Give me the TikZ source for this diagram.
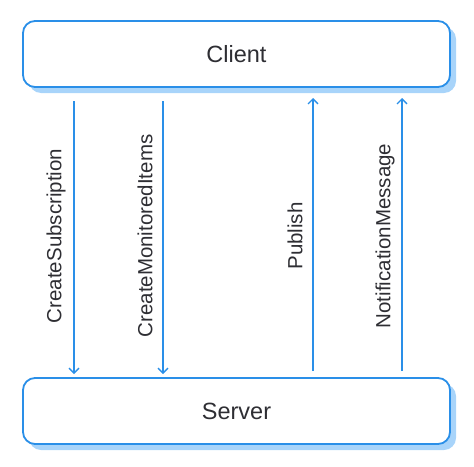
\documentclass[tikz,border=0pt]{standalone}
\usepackage{fontspec}
\setmainfont{Liberation Sans}
\usetikzlibrary{arrows.meta}
\definecolor{bluel}{HTML}{2A8FE8}
\definecolor{shad}{HTML}{A8D4FA}
\definecolor{txt}{HTML}{2E2E33}
\tikzset{
  x=1pt,y=-1pt,
  box/.style={draw=bluel,line width=1.8pt,fill=white,rounded corners=12pt,minimum width=427pt,minimum height=66pt,inner sep=0pt,font=\fontsize{23.5}{28}\selectfont,text=txt},
  shadowbox/.style={fill=shad,rounded corners=12pt,minimum width=427pt,minimum height=66pt,inner sep=0pt},
  msg/.style={draw=bluel,line width=1.3pt,-{Straight Barb[length=5pt,width=10pt,line width=1.3pt]}},
  lbl/.style={rotate=90,font=\fontsize{20.5}{24}\selectfont,text=txt,inner sep=0pt}
}
\begin{document}
\begin{tikzpicture}
\useasboundingbox (0,0) rectangle (474,466);
\node[shadowbox] at (242.5,60) {};
\node[box] (client) at (236.5,54) {Client};
\node[shadowbox] at (242.5,417) {};
\node[box] (server) at (236.5,411) {Server};
\coordinate (a1) at (74,101); \coordinate (b1) at (74,374);
\coordinate (a2) at (163,101); \coordinate (b2) at (163,374);
\coordinate (a3) at (313,371); \coordinate (b3) at (313,98);
\coordinate (a4) at (402,371); \coordinate (b4) at (402,98);
\draw[msg] (a1) -- (b1);
\draw[msg] (a2) -- (b2);
\draw[msg] (a3) -- (b3);
\draw[msg] (a4) -- (b4);
\node[lbl] (l1) at (56,236) {CreateSubscription};
\node[lbl] (l2) at (145,236) {CreateMonitoredItems};
\node[lbl] (l3) at (295,236) {Publish};
\node[lbl] (l4) at (385,236) {NotificationMessage};
\end{tikzpicture}
\end{document}
